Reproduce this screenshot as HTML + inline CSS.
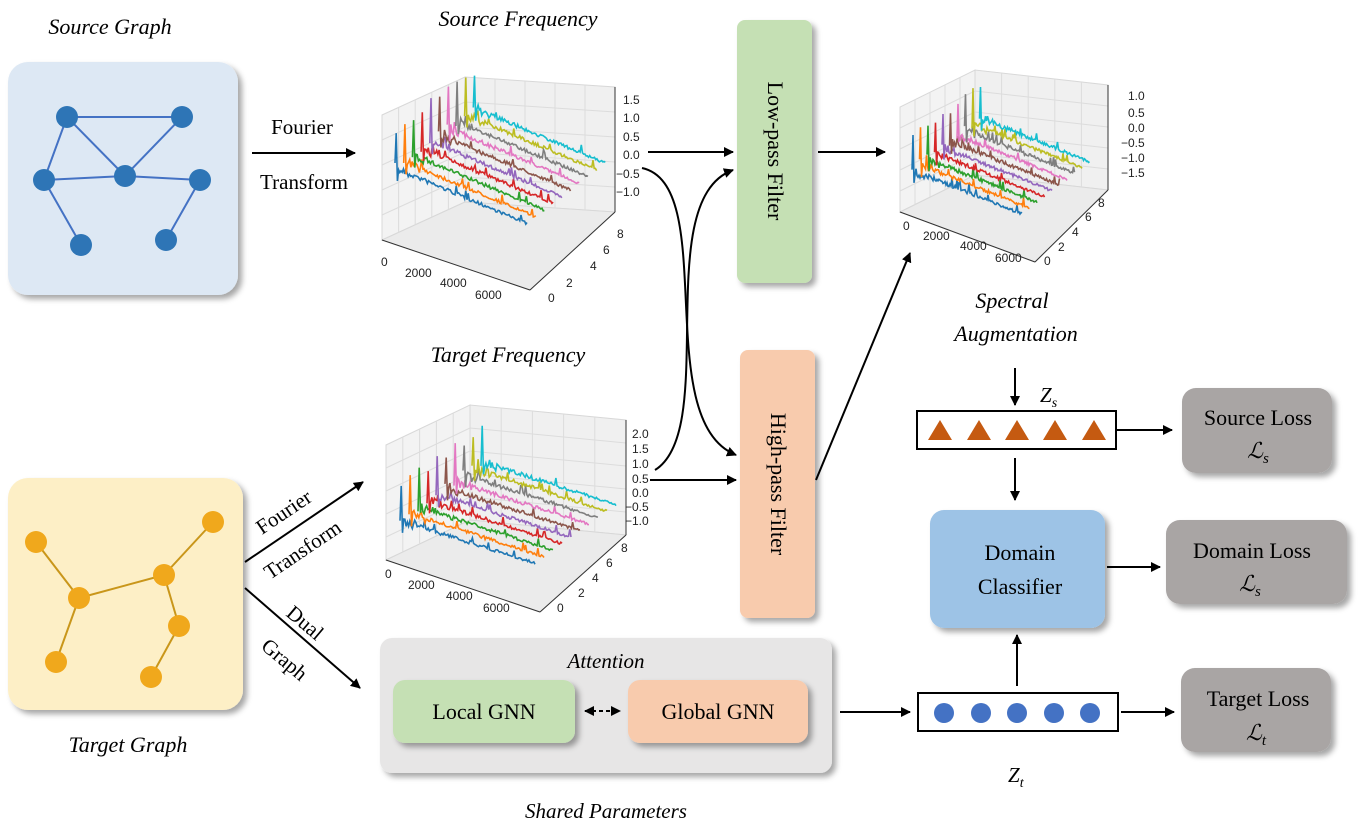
<!DOCTYPE html>
<html><head><meta charset="utf-8"><style>
body{margin:0;background:#fff;}
svg{display:block;font-family:"Liberation Serif",serif;}
.ax{font-family:"Liberation Sans",sans-serif;font-size:12px;fill:#222;}
</style></head><body>
<svg id="s" width="1370" height="832" viewBox="0 0 1370 832" xmlns="http://www.w3.org/2000/svg">
<defs>
<marker id="a" markerWidth="10" markerHeight="10" refX="9" refY="5" orient="auto" markerUnits="userSpaceOnUse"><path d="M0,0 L10,5 L0,10 z" fill="#000"/></marker>
<marker id="b" markerWidth="10" markerHeight="10" refX="1" refY="5" orient="auto" markerUnits="userSpaceOnUse"><path d="M10,0 L0,5 L10,10 z" fill="#000"/></marker>
<filter id="sh" x="-10%" y="-10%" width="130%" height="130%"><feDropShadow dx="4" dy="4" stdDeviation="3" flood-color="#000" flood-opacity="0.35"/></filter>
</defs>

<text x="110" y="34" font-size="22" font-style="italic" text-anchor="middle">Source Graph</text>
<rect x="8" y="62" width="230" height="233" rx="20" fill="#dde8f4" filter="url(#sh)"/>
<g stroke="#4472c4" stroke-width="2">
<line x1="67" y1="117" x2="182" y2="117"/><line x1="67" y1="117" x2="44" y2="180"/><line x1="67" y1="117" x2="125" y2="176"/>
<line x1="182" y1="117" x2="125" y2="176"/><line x1="44" y1="180" x2="125" y2="176"/><line x1="125" y1="176" x2="200" y2="180"/>
<line x1="44" y1="180" x2="81" y2="245"/><line x1="200" y1="180" x2="166" y2="240"/></g>
<g fill="#2e75b6"><circle cx="67" cy="117" r="11"/><circle cx="182" cy="117" r="11"/><circle cx="44" cy="180" r="11"/><circle cx="125" cy="176" r="11"/><circle cx="200" cy="180" r="11"/><circle cx="81" cy="245" r="11"/><circle cx="166" cy="240" r="11"/></g>

<rect x="8" y="478" width="235" height="232" rx="20" fill="#fdefc6" filter="url(#sh)"/>
<g stroke="#c9961a" stroke-width="2">
<line x1="36" y1="542" x2="79" y2="598"/><line x1="79" y1="598" x2="164" y2="575"/><line x1="164" y1="575" x2="213" y2="522"/>
<line x1="164" y1="575" x2="179" y2="626"/><line x1="179" y1="626" x2="151" y2="677"/><line x1="79" y1="598" x2="56" y2="662"/></g>
<g fill="#f0a81c"><circle cx="213" cy="522" r="11"/><circle cx="36" cy="542" r="11"/><circle cx="164" cy="575" r="11"/><circle cx="79" cy="598" r="11"/><circle cx="179" cy="626" r="11"/><circle cx="56" cy="662" r="11"/><circle cx="151" cy="677" r="11"/></g>
<text x="128" y="752" font-size="22" font-style="italic" text-anchor="middle">Target Graph</text>

<text x="302" y="134" font-size="21" text-anchor="middle">Fourier</text>
<text x="304" y="189" font-size="21" text-anchor="middle">Transform</text>
<line x1="252" y1="153" x2="355" y2="153" stroke="#000" stroke-width="2" marker-end="url(#a)"/>
<line x1="245" y1="562" x2="363" y2="482" stroke="#000" stroke-width="2" marker-end="url(#a)"/>
<text font-size="21" transform="translate(262,535) rotate(-34)">Fourier</text>
<text font-size="21" transform="translate(270,580) rotate(-34)">Transform</text>
<line x1="245" y1="588" x2="360" y2="688" stroke="#000" stroke-width="2" marker-end="url(#a)"/>
<text font-size="21" transform="translate(285,615) rotate(40)">Dual</text>
<text font-size="21" transform="translate(260,648) rotate(40)">Graph</text>

<text x="518" y="26" font-size="22" font-style="italic" text-anchor="middle">Source Frequency</text>
<text x="508" y="362" font-size="22" font-style="italic" text-anchor="middle">Target Frequency</text>
<g id="plots"></g>

<rect x="737" y="20" width="75" height="263" rx="8" fill="#c5e0b4" filter="url(#sh)"/>
<text font-size="22" text-anchor="middle" transform="translate(768,151) rotate(90)">Low-pass Filter</text>
<rect x="740" y="350" width="75" height="268" rx="8" fill="#f8cbad" filter="url(#sh)"/>
<text font-size="22" text-anchor="middle" transform="translate(771,484) rotate(90)">High-pass Filter</text>

<g stroke="#000" stroke-width="2" fill="none">
<line x1="648" y1="152" x2="733" y2="152" marker-end="url(#a)"/>
<line x1="650" y1="480" x2="736" y2="480" marker-end="url(#a)"/>
<path d="M642,168 C720,185 650,420 736,455" marker-end="url(#a)"/>
<path d="M655,470 C720,430 650,200 733,170" marker-end="url(#a)"/>
<line x1="818" y1="152" x2="885" y2="152" marker-end="url(#a)"/>
<line x1="816" y1="480" x2="910" y2="253" marker-end="url(#a)"/>
</g>

<text x="1012" y="308" font-size="22" font-style="italic" text-anchor="middle">Spectral</text>
<text x="1016" y="341" font-size="22" font-style="italic" text-anchor="middle">Augmentation</text>

<line x1="1015" y1="368" x2="1015" y2="405" stroke="#000" stroke-width="2" marker-end="url(#a)"/>
<text x="1040" y="402" font-size="21" font-style="italic">Z<tspan font-size="14" dy="5">s</tspan></text>
<rect x="917" y="411" width="199" height="38" fill="#fff" stroke="#000" stroke-width="2"/>
<g fill="#c55a11">
<path d="M928,440 L940,420 L952,440z"/><path d="M967,440 L979,420 L991,440z"/><path d="M1005,440 L1017,420 L1029,440z"/><path d="M1043,440 L1055,420 L1067,440z"/><path d="M1082,440 L1094,420 L1106,440z"/></g>
<line x1="1117" y1="430" x2="1172" y2="430" stroke="#000" stroke-width="2" marker-end="url(#a)"/>
<line x1="1015" y1="458" x2="1015" y2="500" stroke="#000" stroke-width="2" marker-end="url(#a)"/>

<rect x="1182" y="388" width="150" height="85" rx="14" fill="#a9a5a4" filter="url(#sh)"/>
<text x="1258" y="425" font-size="22" text-anchor="middle">Source Loss</text>
<text x="1258" y="458" font-size="22" font-style="italic" text-anchor="middle">ℒ<tspan font-size="15" dy="5">s</tspan></text>

<rect x="930" y="510" width="175" height="118" rx="14" fill="#9dc3e6" filter="url(#sh)"/>
<text x="1020" y="560" font-size="22" text-anchor="middle">Domain</text>
<text x="1020" y="594" font-size="22" text-anchor="middle">Classifier</text>
<line x1="1107" y1="567" x2="1160" y2="567" stroke="#000" stroke-width="2" marker-end="url(#a)"/>
<rect x="1166" y="520" width="181" height="84" rx="14" fill="#a9a5a4" filter="url(#sh)"/>
<text x="1252" y="558" font-size="22" text-anchor="middle">Domain Loss</text>
<text x="1250" y="591" font-size="22" font-style="italic" text-anchor="middle">ℒ<tspan font-size="15" dy="5">s</tspan></text>

<line x1="1017" y1="686" x2="1017" y2="635" stroke="#000" stroke-width="2" marker-end="url(#a)"/>
<rect x="918" y="693" width="200" height="38" fill="#fff" stroke="#000" stroke-width="2"/>
<g fill="#4472c4"><circle cx="944" cy="713" r="10"/><circle cx="981" cy="713" r="10"/><circle cx="1017" cy="713" r="10"/><circle cx="1054" cy="713" r="10"/><circle cx="1090" cy="713" r="10"/></g>
<line x1="1121" y1="712" x2="1174" y2="712" stroke="#000" stroke-width="2" marker-end="url(#a)"/>
<text x="1008" y="782" font-size="21" font-style="italic">Z<tspan font-size="14" dy="5">t</tspan></text>
<rect x="1181" y="668" width="150" height="84" rx="14" fill="#a9a5a4" filter="url(#sh)"/>
<text x="1258" y="706" font-size="22" text-anchor="middle">Target Loss</text>
<text x="1256" y="740" font-size="22" font-style="italic" text-anchor="middle">ℒ<tspan font-size="15" dy="5">t</tspan></text>

<rect x="380" y="638" width="452" height="135" rx="12" fill="#e7e6e6" filter="url(#sh)"/>
<text x="606" y="668" font-size="21" font-style="italic" text-anchor="middle">Attention</text>
<rect x="393" y="680" width="182" height="63" rx="12" fill="#c5e0b4" filter="url(#sh)"/>
<text x="484" y="719" font-size="22" text-anchor="middle">Local GNN</text>
<rect x="628" y="680" width="180" height="63" rx="12" fill="#f8cbad" filter="url(#sh)"/>
<text x="718" y="719" font-size="22" text-anchor="middle">Global GNN</text>
<line x1="585" y1="711" x2="620" y2="711" stroke="#000" stroke-width="2" stroke-dasharray="4,3" marker-start="url(#b)" marker-end="url(#a)"/>
<line x1="840" y1="712" x2="910" y2="712" stroke="#000" stroke-width="2" marker-end="url(#a)"/>
<text x="606" y="818" font-size="21" font-style="italic" text-anchor="middle">Shared Parameters</text>

<g class="ax">
<text x="623" y="104">1.5</text><text x="623" y="122">1.0</text><text x="623" y="141">0.5</text><text x="623" y="159">0.0</text><text x="616" y="178">−0.5</text><text x="616" y="196">−1.0</text>
<text x="381" y="266">0</text><text x="405" y="277">2000</text><text x="440" y="287">4000</text><text x="475" y="299">6000</text>
<text x="617" y="238">8</text><text x="603" y="254">6</text><text x="590" y="270">4</text><text x="566" y="287">2</text><text x="548" y="302">0</text>

<text x="632" y="438">2.0</text><text x="632" y="453">1.5</text><text x="632" y="468">1.0</text><text x="632" y="483">0.5</text><text x="632" y="497">0.0</text><text x="625" y="511">−0.5</text><text x="625" y="525">−1.0</text>
<text x="385" y="578">0</text><text x="408" y="589">2000</text><text x="446" y="600">4000</text><text x="483" y="612">6000</text>
<text x="621" y="552">8</text><text x="606" y="567">6</text><text x="592" y="582">4</text><text x="578" y="597">2</text><text x="557" y="612">0</text>

<text x="1128" y="100">1.0</text><text x="1128" y="117">0.5</text><text x="1128" y="132">0.0</text><text x="1121" y="147">−0.5</text><text x="1121" y="162">−1.0</text><text x="1121" y="177">−1.5</text>
<text x="903" y="230">0</text><text x="923" y="240">2000</text><text x="960" y="250">4000</text><text x="995" y="262">6000</text>
<text x="1098" y="207">8</text><text x="1085" y="221">6</text><text x="1072" y="236">4</text><text x="1058" y="251">2</text><text x="1044" y="265">0</text>
</g>
</svg>
<script>
(function(){
var g=document.getElementById('plots'),ns="http://www.w3.org/2000/svg";
var cols=["#1f77b4","#ff7f0e","#2ca02c","#d62728","#9467bd","#8c564b","#e377c2","#7f7f7f","#bcbd22","#17becf"];
var seed=7;function r(){seed=(seed*16807)%2147483647;return seed/2147483647;}
function el(t,a){var e=document.createElementNS(ns,t);for(var k in a)e.setAttribute(k,a[k]);g.appendChild(e);return e;}
function plot(o){
 var A=o.A,B=o.B,C=o.C,D=o.D,h=o.h;
 function P(p){return p[0]+","+p[1];}
 el('path',{d:"M"+P(A)+" L"+P(B)+" L"+B[0]+","+(B[1]-h)+" L"+A[0]+","+(A[1]-h)+"Z",fill:"#f3f3f3",stroke:"#d8d8d8"});
 el('path',{d:"M"+P(B)+" L"+P(C)+" L"+C[0]+","+(C[1]-h)+" L"+B[0]+","+(B[1]-h)+"Z",fill:"#f0f0f0",stroke:"#d8d8d8"});
 el('path',{d:"M"+P(A)+" L"+P(B)+" L"+P(C)+" L"+P(D)+"Z",fill:"#ebebeb",stroke:"#d8d8d8"});
 for(var k=1;k<5;k++){var t=k/5;
  el('line',{x1:A[0]+(B[0]-A[0])*t,y1:A[1]+(B[1]-A[1])*t,x2:A[0]+(B[0]-A[0])*t,y2:A[1]+(B[1]-A[1])*t-h,stroke:"#dcdcdc"});
  el('line',{x1:B[0]+(C[0]-B[0])*t,y1:B[1]+(C[1]-B[1])*t,x2:B[0]+(C[0]-B[0])*t,y2:B[1]+(C[1]-B[1])*t-h,stroke:"#dcdcdc"});
  el('line',{x1:A[0],y1:A[1]-h*t,x2:B[0],y2:B[1]-h*t,stroke:"#dcdcdc"});
  el('line',{x1:B[0],y1:B[1]-h*t,x2:C[0],y2:C[1]-h*t,stroke:"#dcdcdc"});
 }
 el('line',{x1:C[0],y1:C[1],x2:C[0],y2:C[1]-h,stroke:"#333"});
 el('line',{x1:D[0],y1:D[1],x2:C[0],y2:C[1],stroke:"#333"});
 el('line',{x1:A[0],y1:A[1],x2:D[0],y2:D[1],stroke:"#333"});
 for(var i=0;i<10;i++){
  var x0=o.x0+i*o.dx,y0=o.y0-i*o.dy,len=o.len,slope=o.sl,d="";
  var N=110;
  for(var j=0;j<=N;j++){
   var t=j/N,x=x0+t*len,y=y0+t*len*slope;
   var amp;
   if(j==1)amp=-o.spike*(0.7+0.3*r());else if(j==2)amp=12;else amp=(j<15?10:5)*(r()-0.5)*(1-t*0.5);
   if(r()<0.04)amp-=7;
   d+=(j?"L":"M")+x.toFixed(1)+","+(y+amp).toFixed(1);
  }
  el('path',{d:d,fill:"none",stroke:cols[i],"stroke-width":1.6});
 }
}
plot({A:[382,240],B:[465,202],C:[615,212],D:[530,290],h:125,x0:395,y0:168,dx:8.7,dy:6.7,len:132,sl:0.42,spike:45});
plot({A:[386,560],B:[470,520],C:[626,535],D:[540,612],h:115,x0:400,y0:520,dx:9,dy:6.5,len:135,sl:0.32,spike:40});
plot({A:[900,212],B:[975,175],C:[1108,190],D:[1035,262],h:105,x0:912,y0:170,dx:7.5,dy:5.8,len:110,sl:0.4,spike:40});
})();
</script>
</body></html>
